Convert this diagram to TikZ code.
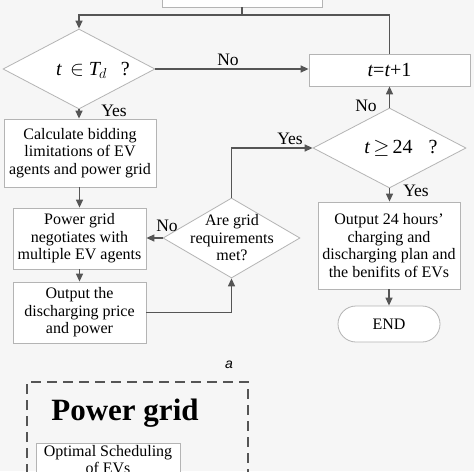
\documentclass[tikz,border=0pt]{standalone}
\usepackage{fontspec}
\setmainfont{Liberation Serif}
\newfontfamily\sansa{Liberation Sans}
\usetikzlibrary{arrows.meta,shapes.geometric}
\definecolor{boxgray}{HTML}{B4B4B4}
\definecolor{linegray}{HTML}{555555}
\definecolor{bggray}{HTML}{F6F6F6}
\newcommand{\fsbody}{\fontsize{16}{17.5}\selectfont}
\newcommand{\fslab}{\fontsize{17.5}{19}\selectfont}
\newcommand{\fsmath}{\fontsize{20}{22}\selectfont}
\tikzset{
  box/.style={draw=boxgray, fill=white, line width=0.8pt, inner sep=0pt, align=center, font=\fsbody},
  dia/.style={diamond, draw=boxgray, fill=white, line width=0.8pt, inner sep=0pt},
  arr/.style={draw=linegray, line width=1.3pt, -{Triangle[length=8pt,width=7pt]}},
  ln/.style={draw=linegray, line width=1.3pt},
  lbl/.style={font=\fslab, inner sep=0pt},
  txt/.style={inner sep=0pt, align=center, font=\fsbody}
}
\begin{document}
\begin{tikzpicture}[x=1pt,y=-1pt]
\useasboundingbox (0,0) rectangle (474,474);
\fill[white] (0,0) rectangle (474,474);
\fill[bggray] (0,0) rectangle (474,471);
\begin{scope}
\clip (0,0) rectangle (474,471);
% top box (cut off)
\node[box, minimum width=160pt, minimum height=34pt] (top) at (242,-10) {};
% decisions
\node[dia, minimum width=152pt, minimum height=80pt] (d1) at (79,69) {};
\node[inner sep=0pt, font=\fsmath] (d1t) at (93,70) {\itshape t\, $\in$ T\kern-1pt$_{d}$\hspace{14pt}\upshape ?};
\node[dia, minimum width=137pt, minimum height=80pt] (d2) at (231.5,238) {};
\node[txt] (d2t) at (232,238) {Are grid\\requirements\\met?};
\node[dia, minimum width=153pt, minimum height=80pt] (d3) at (389.5,148) {};
\node[inner sep=0pt, font=\fsmath] (d3t) at (401,148) {\itshape t\,$\geq$\,\upshape 24\hspace{16pt}?};
% boxes
\node[box, minimum width=161pt, minimum height=32pt, font=\fsmath] (tplus) at (389.5,70) {\itshape t\upshape =\itshape t\upshape +1};
\node[box, minimum width=152pt, minimum height=68pt] (calc) at (80,153) {Calculate bidding\\limitations of EV\\agents and power grid};
\node[box, minimum width=133pt, minimum height=61pt] (neg) at (79.5,238.5) {Power grid\\negotiates with\\multiple EV agents};
\node[box, minimum width=133pt, minimum height=61pt] (out) at (79.5,312.5) {Output the\\discharging price\\and power};
\node[box, minimum width=142pt, minimum height=87pt] (out24) at (389,245.5) {Output 24 hours’\\charging and\\discharging plan and\\the benifits of EVs};
\node[box, minimum width=102pt, minimum height=36pt, rounded corners=18pt] (end) at (389,324) {END};
% connectors
\coordinate (j1) at (79,15);
\draw[ln] (top.south) -- (top.south |- j1);
\draw[arr] (tplus.north) |- (j1) -- (d1.north);
\draw[arr] (d1.east) -- (d1.east -| tplus.west);
\draw[arr] (d1.south) -- (d1.south |- calc.north);
\draw[arr] (calc.south -| neg.north) -- (neg.north);
\draw[arr] (neg.south) -- (out.north);
\draw[arr] (out.east) -| (d2.south);
\draw[arr] (d2.west) -- (d2.west -| neg.east);
\draw[arr] (d2.north) |- (d3.west);
\draw[arr] (d3.north) -- (d3.north |- tplus.south);
\draw[arr] (d3.south) -- (d3.south |- out24.north);
\draw[arr] (out24.south) -- (out24.south |- end.north);
% labels
\node[lbl] (lno1) at (228,60) {No};
\node[lbl] (lyes1) at (114,111) {Yes};
\node[lbl] (lno2) at (167,226) {No};
\node[lbl] (lyes2) at (290,139) {Yes};
\node[lbl] (lno3) at (366,106) {No};
\node[lbl] (lyes3) at (416,191) {Yes};
\node[inner sep=0pt, font=\sansa\itshape\fontsize{14}{16}\selectfont] (cap) at (229,365) {a};
% lower part
\draw[linegray, line width=1.3pt, dash pattern=on 10pt off 6pt] (27,490) -- (27,382) -- (248,382) -- (248,490);
\node[inner sep=0pt, font=\bfseries\fontsize{31}{34}\selectfont] (pg) at (125,413) {Power grid};
\node[box, minimum width=144pt, minimum height=60pt, anchor=north west] (opt) at (36,443) {};
\node[txt, anchor=north] (optt) at (108,445) {Optimal Scheduling\\of EVs};
\end{scope}
\end{tikzpicture}
\end{document}
